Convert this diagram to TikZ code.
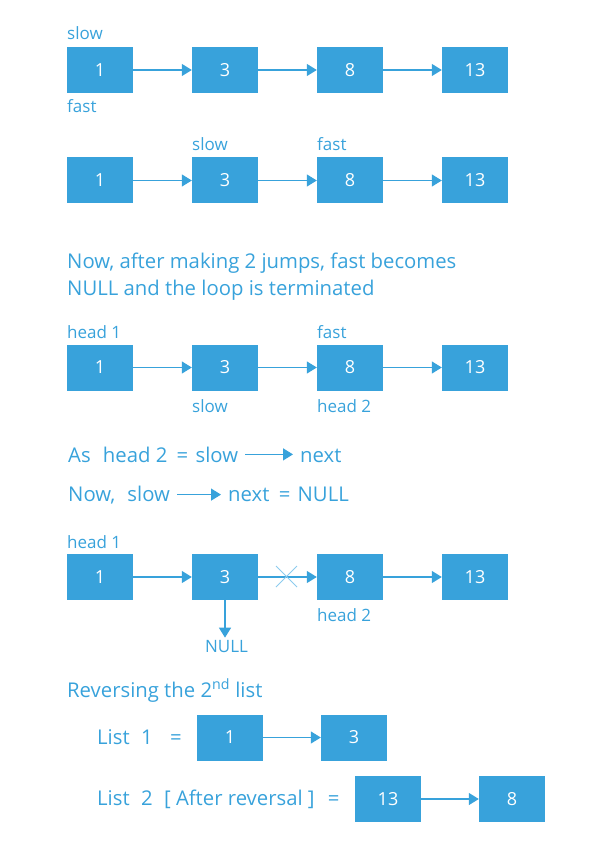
\documentclass[tikz,border=0pt]{standalone}
\usepackage{fontspec}
\setmainfont{Open Sans}
\usetikzlibrary{arrows.meta}
\definecolor{listblue}{HTML}{38A2DB}
\definecolor{crossblue}{HTML}{8CCBEE}

\begin{document}
\begin{tikzpicture}[x=1pt,y=-1pt,
  box/.style={rectangle,fill=listblue,text=white,minimum width=66pt,minimum height=46pt,inner sep=0pt,font=\fontsize{18}{18}\selectfont},
  lbl/.style={anchor=base west,text=listblue,inner sep=2pt,font=\fontsize{17}{17}\selectfont},
  txt/.style={lbl,font=\fontsize{20.3}{21}\selectfont},
  link/.style={draw=listblue,line width=1.3pt,-{Triangle[length=10pt,width=12pt]}},
  cross/.style={draw=crossblue,line width=0.8pt}
]
  \useasboundingbox (0,0) rectangle (595,850);
  % first pass
  \node[lbl] (s0) at (65,40) {slow};
  \node[box] (a1) at (100,70) {1};
  \node[box] (a2) at (225,70) {3};
  \node[box] (a3) at (350,70) {8};
  \node[box] (a4) at (475,70) {13};
  \node[lbl] (f0) at (65,113) {fast};
  \draw[link] (a1) -- (a2);
  \draw[link] (a2) -- (a3);
  \draw[link] (a3) -- (a4);
  % second pass
  \node[lbl] (s1) at (190,151) {slow};
  \node[lbl] (f1) at (315,151) {fast};
  \node[box] (b1) at (100,180.5) {1};
  \node[box] (b2) at (225,180.5) {3};
  \node[box] (b3) at (350,180.5) {8};
  \node[box] (b4) at (475,180.5) {13};
  \draw[link] (b1) -- (b2);
  \draw[link] (b2) -- (b3);
  \draw[link] (b3) -- (b4);
  % text
  \node[txt] (t1) at (65,268) {Now, after making 2 jumps, fast becomes};
  \node[txt] (t2) at (65,295) {NULL and the loop is terminated};
  % split point
  \node[lbl] (h1) at (65,338) {head 1};
  \node[lbl] (f2) at (315,338) {fast};
  \node[box] (c1) at (100,367.5) {1};
  \node[box] (c2) at (225,367.5) {3};
  \node[box] (c3) at (350,367.5) {8};
  \node[box] (c4) at (475,367.5) {13};
  \node[lbl] (s2) at (190,412) {slow};
  \node[lbl] (h2) at (315,412) {head 2};
  \draw[link] (c1) -- (c2);
  \draw[link] (c2) -- (c3);
  \draw[link] (c3) -- (c4);
  % equations
  \node[txt] (e1) at (66,462) {As\hspace{0.6em}head 2\hspace{0.2em} = \hspace{0.1em}slow};
  \node[txt] (e2) at (298,462) {next};
  \draw[link,shorten <=5pt,shorten >=5pt] (e1.east) -- (e1.east -| e2.west);
  \node[txt] (e3) at (66,501) {Now,\hspace{0.6em}slow};
  \node[txt] (e4) at (226,501) {next\hspace{0.2em} = \hspace{0.1em}NULL};
  \draw[link,shorten <=5pt,shorten >=5pt] (e3.east) -- (e3.east -| e4.west);
  % two lists
  \node[lbl] (h3) at (65,548) {head 1};
  \node[box] (d1) at (100,577) {1};
  \node[box] (d2) at (225,577) {3};
  \node[box] (d3) at (350,577) {8};
  \node[box] (d4) at (475,577) {13};
  \node[lbl] (h4) at (315,621) {head 2};
  \node[lbl,anchor=base] (nul) at (226.5,652) {NULL};
  \draw[link] (d1) -- (d2);
  \draw[link] (d2) -- (d3);
  \draw[link] (d3) -- (d4);
  \draw[link] (d2.south) -- (d2.south |- nul.north);
  \draw[cross] (276,566) -- (297,587);
  \draw[cross] (276,587) -- (297,566);
  % reversal
  \node[txt] (r0) at (65,697) {Reversing the 2\textsuperscript{nd} list};
  \node[txt] (l1) at (95,744) {List\hspace{0.3em} 1\hspace{0.6em} =};
  \node[box] (g1) at (230,737.5) {1};
  \node[box] (g2) at (354,737.5) {3};
  \draw[link] (g1) -- (g2);
  \node[txt] (l2) at (95,805) {List\hspace{0.3em} 2\hspace{0.3em} [ After reversal ]\hspace{0.4em} =};
  \node[box] (k1) at (388,799) {13};
  \node[box] (k2) at (512,799) {8};
  \draw[link] (k1) -- (k2);
\end{tikzpicture}
\end{document}
